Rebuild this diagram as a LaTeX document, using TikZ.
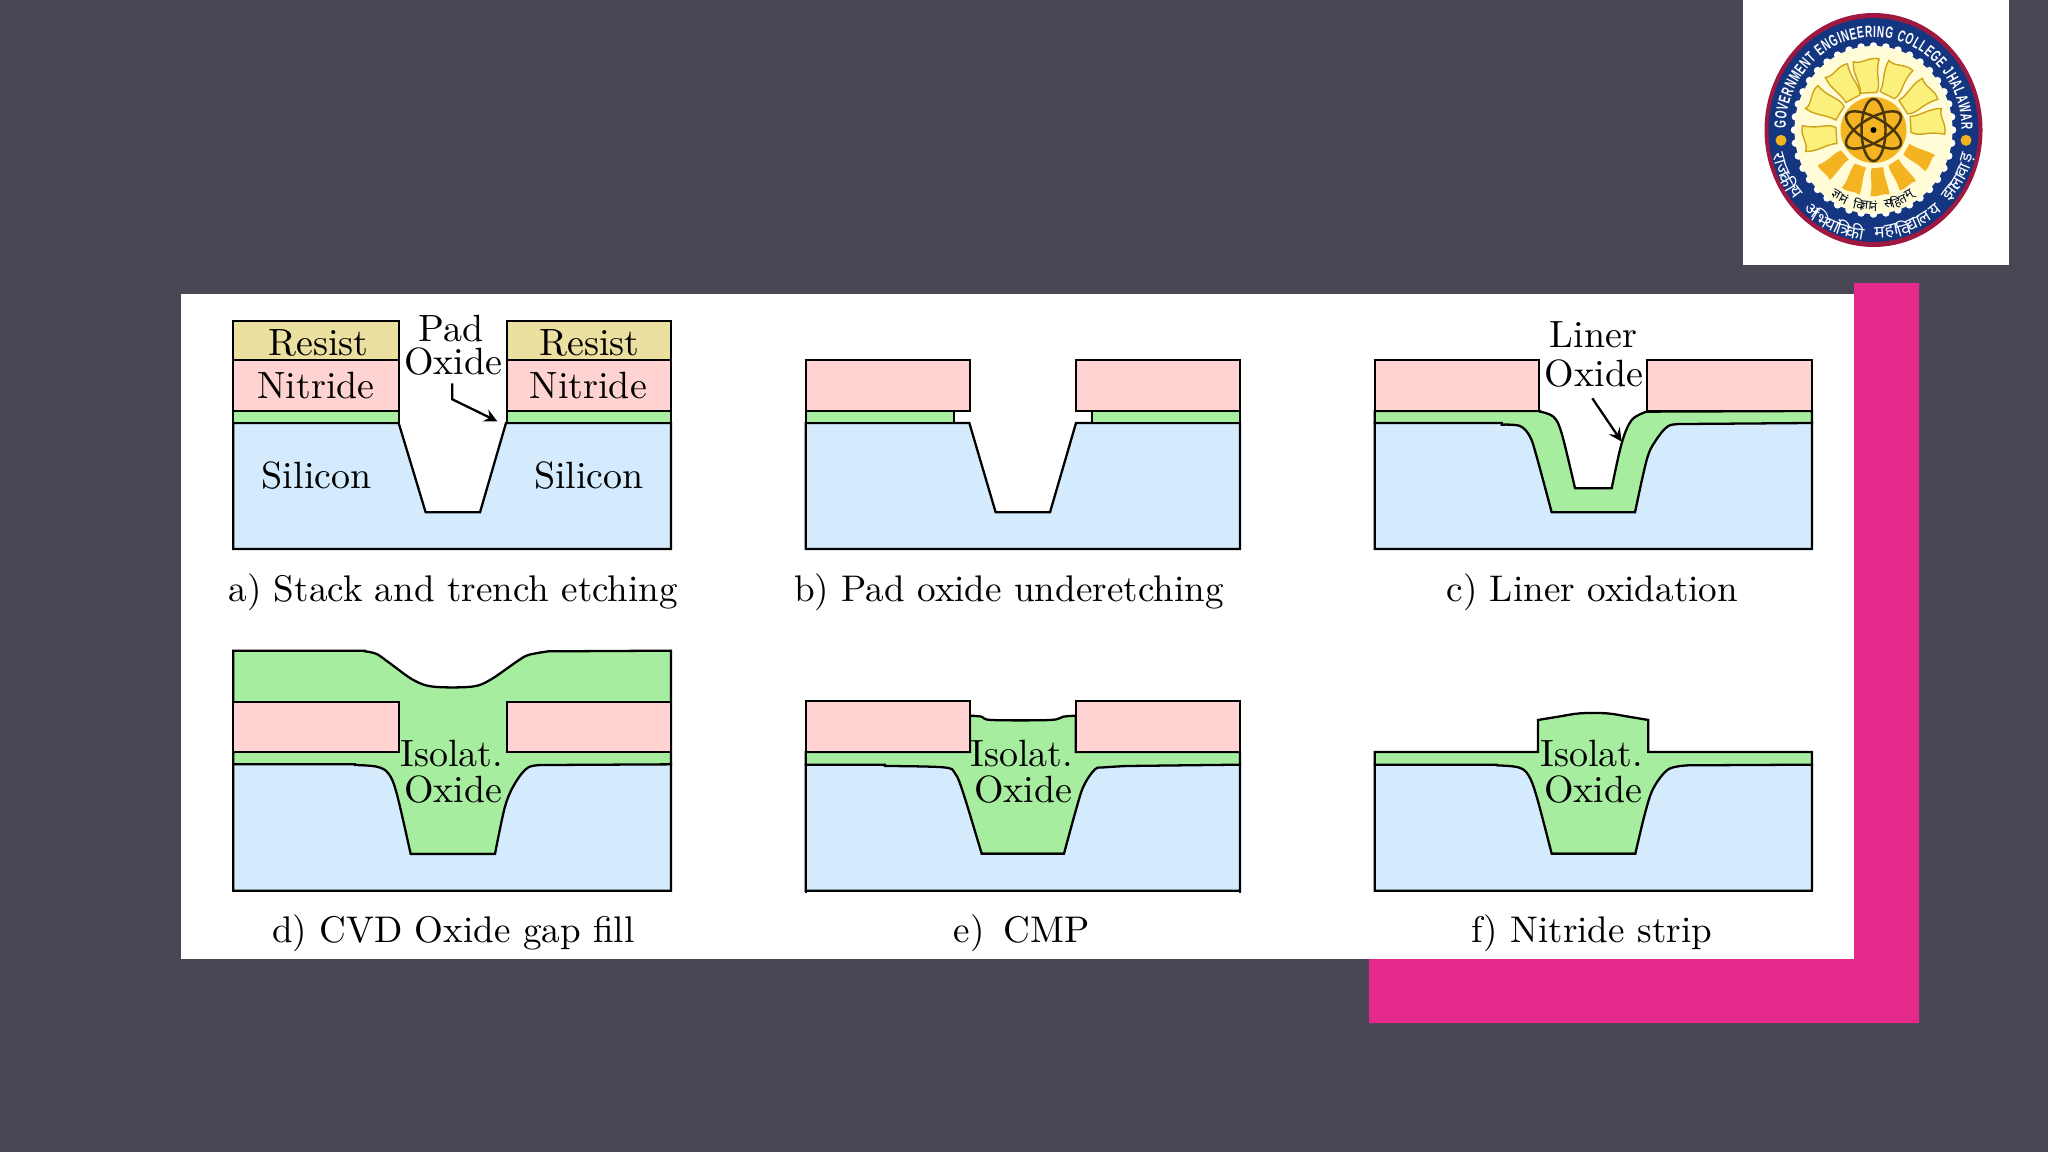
\documentclass[tikz,border=0pt]{standalone}
\usepackage{fontspec}
\usetikzlibrary{decorations.text}
\newfontfamily\hindifont[Script=Devanagari]{Noto Sans}
\newfontfamily\sealfont[FakeStretch=0.62]{Liberation Sans}
\definecolor{slidebg}{RGB}{72,71,83}
\definecolor{slidepink}{RGB}{228,43,140}
\definecolor{resistcol}{RGB}{236,224,160}
\definecolor{nitridecol}{RGB}{255,211,209}
\definecolor{oxidecol}{RGB}{167,237,160}
\definecolor{siliconcol}{RGB}{211,235,253}
\definecolor{sealred}{RGB}{158,24,64}
\definecolor{sealblue}{RGB}{20,54,128}
\definecolor{sealray}{RGB}{252,240,125}
\definecolor{sealorange}{RGB}{244,180,34}
\definecolor{sealpale}{RGB}{255,252,215}
\tikzset{
  layer/.style={draw=black,line width=0.65pt},
  resist/.style={layer,fill=resistcol},
  nitride/.style={layer,fill=nitridecol},
  oxide/.style={layer,fill=oxidecol},
  silicon/.style={layer,fill=siliconcol},
  txt/.style={inner sep=0pt,font=\fontsize{10.8}{12}\selectfont},
  caption/.style={inner sep=0pt,font=\fontsize{10.55}{13}\selectfont},
  curve/.style={smooth,tension=0.55},
  pointer/.style={-stealth,line width=0.65pt},
  hindi/.style={inner sep=0pt,font=\hindifont\fontsize{4.9}{6}\selectfont},
  motto/.style={inner sep=0pt,text=black!75!sealblue,font=\hindifont\fontsize{3.6}{4}\selectfont}
}
\begin{document}
\begin{tikzpicture}[x=0.01cm,y=-0.01cm]
  \useasboundingbox (0,0) rectangle (2048,1152);
  \fill [slidebg] (0,0) rectangle (2048,1152);
  \fill [slidepink] (1854,283) -- (1919,283) -- (1919,1023) -- (1369,1023) -- (1369,959) -- (1854,959) -- cycle;
  \fill [white] (181,294) rectangle (1854,959);
  \fill [white] (1743,0) rectangle (2009,265);

  \begin{scope}[shift={(200,300)},scale=1/3]
    \draw [silicon] (100,369) -- (596,369) -- (677,637) -- (840,637) -- (918,369) -- (1413,369) -- (1413,747) -- (100,747) -- cycle;
    \draw [oxide] (100,333) rectangle (596,369);
    \draw [oxide] (920,333) rectangle (1413,369);
    \draw [nitride] (100,181) rectangle (596,333);
    \draw [nitride] (920,181) rectangle (1413,333);
    \draw [resist] (100,62) rectangle (596,181);
    \draw [resist] (920,62) rectangle (1413,181);
    \node [txt] (resistl) at (355,128) {Resist};
    \node [txt] (resistr) at (1168,128) {Resist};
    \node [txt] (nitridel) at (348,258) {Nitride};
    \node [txt] (nitrider) at (1165,258) {Nitride};
    \node [txt] (siliconl) at (350,527) {Silicon};
    \node [txt] (siliconr) at (1167,527) {Silicon};
    \node [txt] (padlabel) at (752,85) {Pad};
    \node [txt] (padoxide) at (760,185) {Oxide};
    \coordinate (padtail) at (757,250);
    \coordinate (padknee) at (757,298);
    \coordinate (padtip) at (892,364);
    \draw [pointer] (padtail) -- (padknee) -- (padtip);
    \node [caption] (capa) at (760,876) {a) Stack and trench etching};
  \end{scope}

  \begin{scope}[shift={(770,300)},scale=1/3]
    \draw [silicon] (107,369) -- (598,369) -- (677,637) -- (840,637) -- (918,369) -- (1410,369) -- (1410,747) -- (107,747) -- cycle;
    \draw [oxide] (107,333) rectangle (552,369);
    \draw [oxide] (966,333) rectangle (1410,369);
    \draw [layer] (552,369) -- (598,369);
    \draw [nitride] (107,181) rectangle (600,333);
    \draw [nitride] (918,181) rectangle (1410,333);
    \node [caption] (capb) at (717,876) {b) Pad oxide underetching};
  \end{scope}

  \begin{scope}[shift={(1340,300)},scale=1/3]
    \draw [oxide] (104,333) -- (600,333) -- plot [curve] coordinates {(600,335) (640,350) (665,400) (705,565)} -- (815,565) -- plot [curve] coordinates {(815,565) (845,430) (875,360) (920,335)} -- (1416,333) -- (1416,369) -- (885,637) -- (635,637) -- (104,369) -- cycle;
    \draw [silicon] (104,369) -- (485,369) -- plot [curve] coordinates {(485,374) (540,378) (570,410) (590,470) (635,637)} -- (885,637) -- plot [curve] coordinates {(885,637) (920,480) (945,425) (985,378) (1035,372)} -- (1416,369) -- (1416,747) -- (104,747) -- cycle;
    \draw [nitride] (104,181) rectangle (597,333);
    \draw [nitride] (922,181) rectangle (1416,333);
    \node [txt] (linerlabel) at (760,105) {Liner};
    \node [txt] (lineroxide) at (762,220) {Oxide};
    \coordinate (linertail) at (757,295);
    \coordinate (linertip) at (845,425);
    \draw [pointer] (linertail) -- (linertip);
    \node [caption] (capc) at (757,876) {c) Liner oxidation};
  \end{scope}

  \begin{scope}[shift={(200,630)},scale=1/3]
    \draw [oxide] (100,62) -- (495,62) -- plot [curve] coordinates {(495,64) (530,72) (570,100) (640,150) (700,170) (815,170) (870,150) (950,95) (985,75) (1045,64)} -- (1413,62) -- (1413,403) -- (885,672) -- (632,672) -- (100,403) -- cycle;
    \draw [silicon] (100,403) -- (465,403) -- plot [curve] coordinates {(465,405) (530,410) (565,430) (590,490) (632,672)} -- (885,672) -- plot [curve] coordinates {(885,672) (915,530) (945,460) (985,412) (1040,405)} -- (1413,403) -- (1413,782) -- (100,782) -- cycle;
    \draw [nitride] (100,215) rectangle (596,367);
    \draw [nitride] (920,215) rectangle (1413,367);
    \node [txt] (isolatd) at (755,372) {Isolat.};
    \node [txt] (oxided) at (760,480) {Oxide};
    \node [caption] (capd) at (760,911) {d) CVD Oxide gap fill};
  \end{scope}

  \begin{scope}[shift={(770,680)},scale=1/3]
    \draw [oxide] (107,216) -- (600,216) -- (600,107) -- plot [curve] coordinates {(600,107) (635,110) (665,120) (840,120) (880,110) (917,107)} -- (917,216) -- (1410,216) -- (1410,254) -- (882,521) -- (635,521) -- (107,254) -- cycle;
    \draw [silicon] (107,254) -- (345,254) -- plot [curve] coordinates {(345,258) (520,262) (555,280) (580,340) (635,521)} -- (882,521) -- plot [curve] coordinates {(882,521) (915,400) (940,320) (975,268) (1005,262) (1070,258)} -- (1410,254) -- (1410,632) -- (107,632) -- cycle;
    \draw [nitride] (107,64) rectangle (600,216);
    \draw [nitride] (917,64) rectangle (1410,216);
    \coordinate (ebl) at (107,632);
    \coordinate (ebltick) at (107,640);
    \coordinate (ebr) at (1410,632);
    \coordinate (ebrtick) at (1410,640);
    \draw [layer] (ebl) -- (ebltick);
    \draw [layer] (ebr) -- (ebrtick);
    \node [txt] (isolate) at (755,222) {Isolat.};
    \node [txt] (oxidee) at (760,330) {Oxide};
    \node [caption] (cape) at (755,760) {e)\enspace CMP};
  \end{scope}

  \begin{scope}[shift={(1340,680)},scale=1/3]
    \draw [oxide] (104,216) -- (594,216) -- (594,120) -- plot [curve] coordinates {(594,120) (655,110) (720,100) (800,100) (865,110) (925,120)} -- (925,216) -- (1416,216) -- (1416,254) -- (886,521) -- (635,521) -- (104,254) -- cycle;
    \draw [silicon] (104,254) -- (470,254) -- plot [curve] coordinates {(470,256) (535,262) (565,285) (590,350) (635,521)} -- (886,521) -- plot [curve] coordinates {(886,521) (915,400) (940,325) (985,268) (1045,256)} -- (1416,254) -- (1416,632) -- (104,632) -- cycle;
    \node [txt] (isolatf) at (755,222) {Isolat.};
    \node [txt] (oxidef) at (760,330) {Oxide};
    \node [caption] (capf) at (755,761) {f) Nitride strip};
  \end{scope}

  \begin{scope}[shift={(1873.5,130)},yscale=-1]
    \fill [sealred] (0,0) ellipse (109 and 117);
    \fill [sealblue] (0,0) ellipse (105 and 112);
    \foreach \a in {0,9,...,351}
      \fill [white] (\a:79 and 84) circle (3.8);
    \fill [sealpale] (0,0) ellipse (79 and 84);
    \foreach \a in {187,152,122,96,67,36,7}
      \draw [rotate=-\a,fill=sealray,draw=sealorange!70!olive,line width=0.4pt] (37,-7) .. controls (46,-13) and (54,-7) .. (70,-13) .. controls (74,-3) and (66,5) .. (70,13) .. controls (58,15) and (48,8) .. (38,9) -- cycle;
    \foreach \a in {221,250,276,302,330}
      \fill [rotate=-\a,sealorange] (38,-6) .. controls (46,-9) and (54,-6) .. (65,-10) .. controls (68,-3) and (63,4) .. (66,9) .. controls (56,9) and (46,5) .. (38,6) -- cycle;
    \fill [sealorange] (0,0) circle (33);
    \foreach \a in {30,90,150}
      \draw [rotate=\a,black!70!sealorange,line width=0.7pt] (0,0) ellipse (31 and 12);
    \fill (0,0) circle (3);
    \fill [sealorange] (186:93 and 99) circle (5.5);
    \fill [sealorange] (-6:93 and 99) circle (5.5);
    \path [decorate,decoration={text along path,text align={fit to path},text={|\sealfont\bfseries\fontsize{4.6}{5}\selectfont\color{white}|GOVERNMENT ENGINEERING COLLEGE JHALAWAR}}] plot [domain=179:0,samples=60] ({88*cos(\x)},{93*sin(\x)});
    \foreach \akshara [count=\i] in {रा,ज,की,य,,अ,भि,यां,त्रि,की,,म,हा,वि,द्या,ल,य,,झा,ला,वा,ड़} {
      \pgfmathsetmacro\ang{196+(\i-1)*148/21}
      \node [hindi,text=white,rotate=\ang-270] (seal\i) at (\ang:98 and 103) {\akshara};
    }
    \foreach \akshara [count=\i] in {ज्ञा,नं,,वि,ज्ञा,नं,,स,हि,त,म्} {
      \pgfmathsetmacro\ang{240+(\i-1)*6}
      \node [motto,rotate=\ang-270] (motto\i) at (\ang:72 and 76) {\akshara};
    }
  \end{scope}
\end{tikzpicture}
\end{document}
